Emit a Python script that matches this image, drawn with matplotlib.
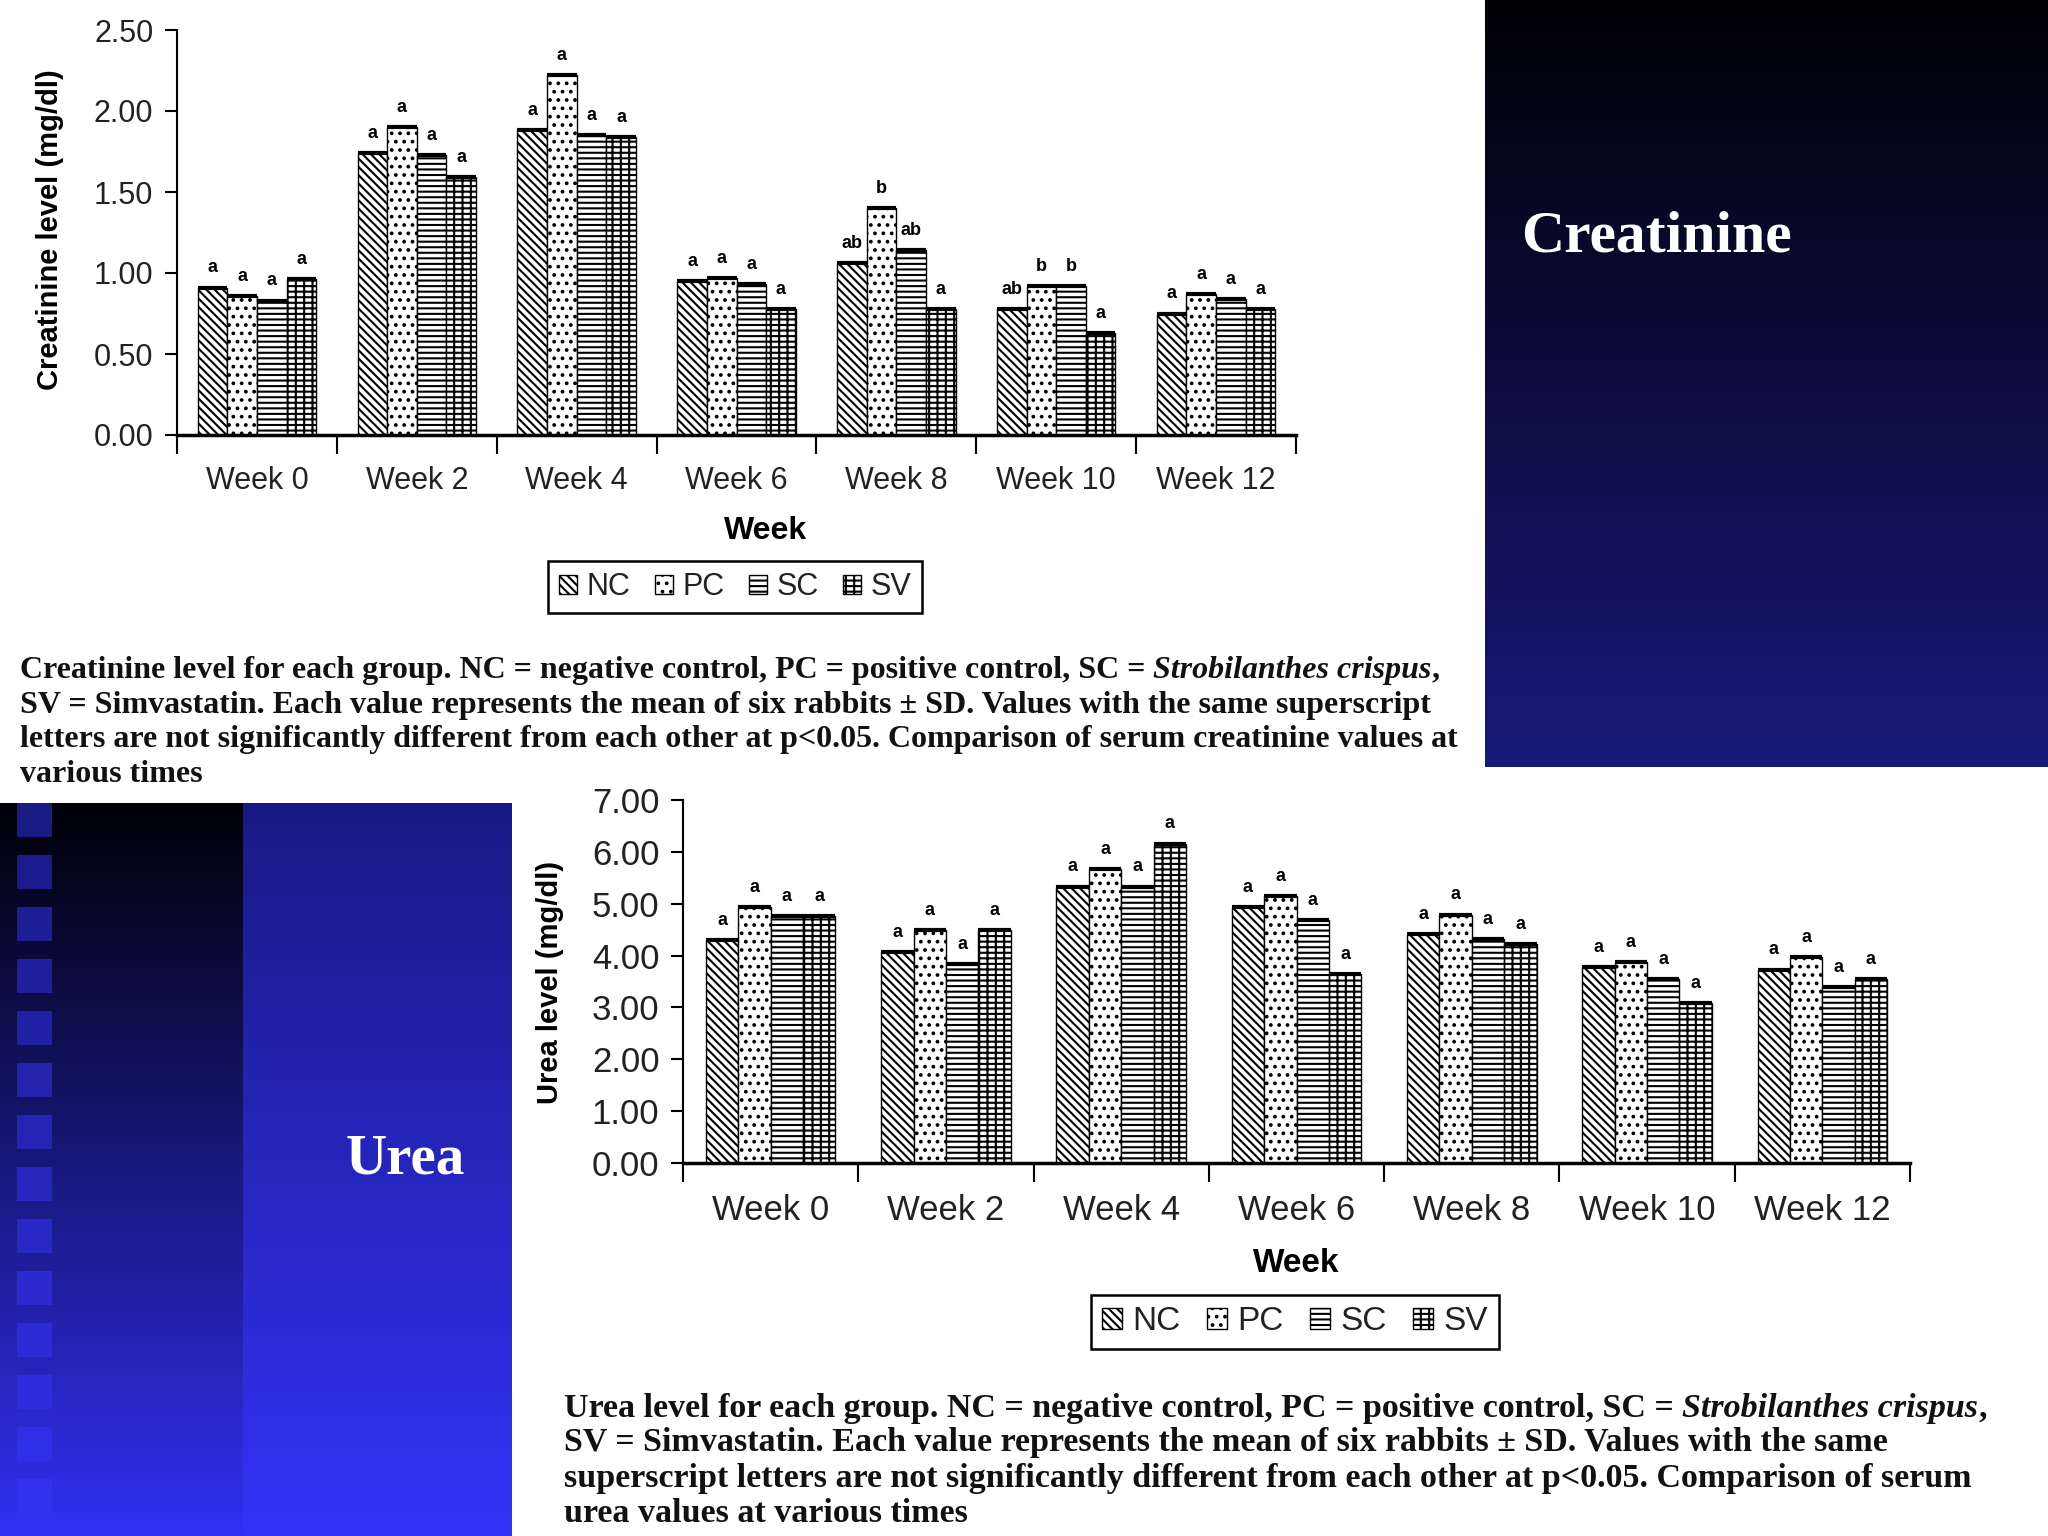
import numpy as np
import matplotlib
matplotlib.use("Agg")
import matplotlib.pyplot as plt
from matplotlib.patches import Rectangle, Patch

plt.rcParams['font.family'] = ['Liberation Sans', 'DejaVu Sans']
plt.rcParams['hatch.linewidth'] = 1.5

W, H = 2048, 1536

weeks = ['Week 0', 'Week 2', 'Week 4', 'Week 6', 'Week 8', 'Week 10', 'Week 12']
groups = ['NC', 'PC', 'SC', 'SV']
hatches = ['\\\\\\\\', '..', '---', '++-']

# creatinine (mg/dl)
creat_nc = [0.91, 1.74, 1.88, 0.95, 1.06, 0.78, 0.75]
creat_pc = [0.86, 1.90, 2.22, 0.97, 1.40, 0.92, 0.87]
creat_sc = [0.83, 1.73, 1.85, 0.93, 1.14, 0.92, 0.84]
creat_sv = [0.96, 1.59, 1.84, 0.78, 0.78, 0.63, 0.78]
creat_nc_sig = ['a', 'a', 'a', 'a', 'ab', 'ab', 'a']
creat_pc_sig = ['a', 'a', 'a', 'a', 'b', 'b', 'a']
creat_sc_sig = ['a', 'a', 'a', 'a', 'ab', 'b', 'a']
creat_sv_sig = ['a', 'a', 'a', 'a', 'a', 'a', 'a']

# urea (mg/dl)
urea_nc = [4.30, 4.07, 5.33, 4.94, 4.41, 3.78, 3.73]
urea_pc = [4.93, 4.50, 5.67, 5.14, 4.79, 3.88, 3.97]
urea_sc = [4.77, 3.84, 5.33, 4.69, 4.31, 3.54, 3.40]
urea_sv = [4.77, 4.50, 6.16, 3.64, 4.23, 3.09, 3.54]
urea_nc_sig = ['a'] * 7
urea_pc_sig = ['a'] * 7
urea_sc_sig = ['a'] * 7
urea_sv_sig = ['a'] * 7

caption_creat = [
    [("Creatinine level for each group. NC = negative control, PC = positive control, SC = ", 'normal'),
     ("Strobilanthes crispus", 'italic'), (",", 'normal')],
    [("SV = Simvastatin. Each value represents the mean of six rabbits \u00b1 SD. Values with the same superscript", 'normal')],
    [("letters are not significantly different from each other at p<0.05. Comparison of serum creatinine values at", 'normal')],
    [("various times", 'normal')],
]
caption_urea = [
    [("Urea level for each group. NC = negative control, PC = positive control, SC = ", 'normal'),
     ("Strobilanthes crispus", 'italic'), (",", 'normal')],
    [("SV = Simvastatin. Each value represents the mean of six rabbits \u00b1 SD. Values with the same", 'normal')],
    [("superscript letters are not significantly different from each other at p<0.05. Comparison of serum", 'normal')],
    [("urea values at various times", 'normal')],
]


def fx(x):
    return x / W


def fy(y):
    return 1 - y / H


def vgrad(ax, x0, x1, y0, y1, c_top, c_bot):
    t = np.linspace(0, 1, 256)[:, None]
    img = (1 - t) * np.array(c_top)[None, :] + t * np.array(c_bot)[None, :]
    ax.imshow(img[:, None, :], extent=(x0, x1, y1, y0), aspect='auto',
              interpolation='bilinear', zorder=1)


fig = plt.figure(figsize=(W / 100, H / 100), dpi=100, facecolor='white')

# slide background panels
bg = fig.add_axes([0, 0, 1, 1], zorder=0)
bg.set_xlim(0, W)
bg.set_ylim(H, 0)
bg.axis('off')

vgrad(bg, 1485, W, 0, 767, (0.0, 0.0, 0.02), (0.10, 0.10, 0.48))
left_top, left_bot = (0.0, 0.0, 0.03), (0.19, 0.19, 0.95)
right_top, right_bot = (0.10, 0.10, 0.52), (0.20, 0.20, 0.97)
vgrad(bg, 0, 243, 803, H, left_top, left_bot)
vgrad(bg, 243, 512, 803, H, right_top, right_bot)
for k in range(14):
    ys = 803 + 52 * k
    t = (ys - 803) / (H - 803)
    col = tuple((1 - t) * a + t * b for a, b in zip(right_top, right_bot))
    bg.add_patch(Rectangle((17, ys), 35, 34, facecolor=col, edgecolor='none', zorder=2))

bg.text(1521, 238, 'Creatinine', color='white', fontsize=43, fontweight='bold',
        family='Liberation Serif', va='center', ha='left', zorder=3)
bg.text(346, 1160, 'Urea', color='white', fontsize=41, fontweight='bold',
        family='Liberation Serif', va='center', ha='left', zorder=3)


def draw_chart(rect, series, sigs, ymax, ystep, fs):
    ax = fig.add_axes(rect, zorder=2)
    ax.set_facecolor('none')
    x = np.arange(len(weeks)) + 0.5
    w = 0.185
    for j, (vals, sig) in enumerate(zip(series, sigs)):
        xs = x + (j - 1.5) * w
        ax.bar(xs, vals, width=w, facecolor='white', edgecolor='black',
               hatch=hatches[j], linewidth=1.0)
        ax.hlines(vals, xs - w / 2, xs + w / 2, colors='black', lw=3)
        for xi, v, s in zip(xs, vals, sig):
            ax.annotate(s, (xi, v), xytext=(0, 8), textcoords='offset points',
                        ha='center', va='bottom', fontsize=13, fontweight='bold')
    ax.set_xlim(0, len(weeks))
    ax.set_ylim(0, ymax)
    ax.set_yticks(np.arange(0, ymax + 1e-9, ystep))
    ax.set_yticklabels([f'{v:.2f}' for v in np.arange(0, ymax + 1e-9, ystep)])
    ax.set_xticks(np.arange(len(weeks) + 1))
    ax.set_xticklabels([])
    ax.set_xticks(x, minor=True)
    ax.set_xticklabels(weeks, minor=True)
    ax.tick_params(axis='x', which='major', length=14, width=1.5, direction='out')
    ax.tick_params(axis='x', which='minor', length=0, pad=22, labelsize=fs, labelcolor='#222222')
    ax.tick_params(axis='y', length=9, width=1.5, direction='out', pad=8,
                   labelsize=fs, labelcolor='#222222')
    ax.spines['top'].set_visible(False)
    ax.spines['right'].set_visible(False)
    ax.spines['left'].set_linewidth(1.5)
    ax.spines['bottom'].set_linewidth(2.5)
    return ax


ax1 = draw_chart([fx(177), fy(435), fx(1296) - fx(177), fy(30) - fy(435)],
                 [creat_nc, creat_pc, creat_sc, creat_sv],
                 [creat_nc_sig, creat_pc_sig, creat_sc_sig, creat_sv_sig], 2.5, 0.5, 22)
ax2 = draw_chart([fx(683), fy(1163), fx(1910) - fx(683), fy(800) - fy(1163)],
                 [urea_nc, urea_pc, urea_sc, urea_sv],
                 [urea_nc_sig, urea_pc_sig, urea_sc_sig, urea_sv_sig], 7.0, 1.0, 25)

fig.text(fx(50), fy(230), 'Creatinine level (mg/dl)', rotation=90, fontsize=21,
         fontweight='bold', ha='center', va='center')
fig.text(fx(550), fy(982), 'Urea level (mg/dl)', rotation=90, fontsize=21,
         fontweight='bold', ha='center', va='center')
fig.text(fx(766), fy(531), 'Week', fontsize=23, fontweight='bold', ha='center', va='center')
fig.text(fx(1296), fy(1263), 'Week', fontsize=24, fontweight='bold', ha='center', va='center')

handles = [Patch(facecolor='white', edgecolor='black', hatch=h, label=g)
           for g, h in zip(groups, hatches)]
for (cx, cy, fs) in [(735, 587, 22), (1295, 1322, 24)]:
    leg = fig.legend(handles=handles, loc='center', bbox_to_anchor=(fx(cx), fy(cy)),
                     ncol=4, fontsize=fs, frameon=True, fancybox=False, framealpha=1,
                     edgecolor='black', handlelength=0.6, handleheight=0.6,
                     handletextpad=0.3, columnspacing=0.8, borderpad=0.35)
    leg.get_frame().set_linewidth(1.8)
    for t in leg.get_texts():
        t.set_color('#222222')

renderer = fig.canvas.get_renderer()


def rich_lines(x0, ys, lines, fs):
    for y, segs in zip(ys, lines):
        xc = x0
        for s, style in segs:
            t = fig.text(fx(xc), fy(y), s, fontsize=fs, family='Liberation Serif',
                         fontweight='bold', style=style, ha='left', va='center',
                         color='#111111')
            bb = t.get_window_extent(renderer)
            xc = bb.x1


rich_lines(20, [670, 705, 740, 774], caption_creat, 23)
rich_lines(564, [1408, 1443, 1478, 1513], caption_urea, 24.5)

fig.savefig('out.png', dpi=100, facecolor='white')
